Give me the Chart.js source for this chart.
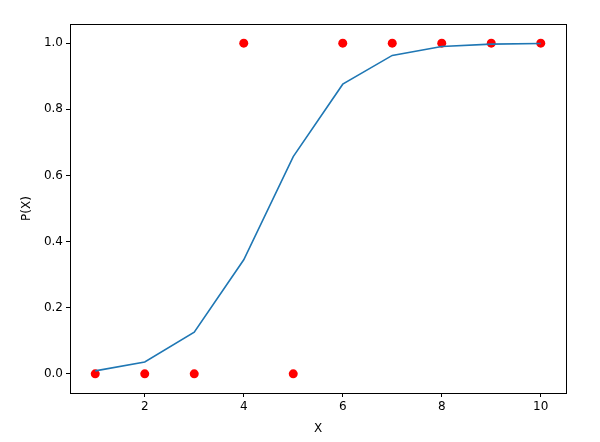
<!DOCTYPE html>
<html>
<head>
<meta charset="utf-8">
<script src="https://cdn.jsdelivr.net/npm/chart.js@4.4.0/dist/chart.umd.min.js"></script>
<style>
  html, body { margin: 0; padding: 0; background: #fff; }
  #wrap { width: 600px; height: 442px; }
</style>
</head>
<body>
<div id="wrap"><canvas id="chart" width="600" height="442"></canvas></div>
<script>
// data
var xs = [1, 2, 3, 4, 5, 6, 7, 8, 9, 10];
var observed = [0, 0, 0, 1, 0, 1, 1, 1, 1, 1];
var fitted = [0.009, 0.036, 0.126, 0.345, 0.657, 0.876, 0.963, 0.990, 0.997, 0.999];
var xTicks = [2, 4, 6, 8, 10];
var yTicks = [0, 0.2, 0.4, 0.6, 0.8, 1.0];

// box round the whole plot area, like matplotlib
var framePlugin = {
  id: 'frame',
  afterDraw: function(chart) {
    var a = chart.chartArea, ctx = chart.ctx;
    ctx.save();
    ctx.strokeStyle = '#000';
    ctx.lineWidth = 1;
    ctx.strokeRect(Math.round(a.left) + 0.5, Math.round(a.top) + 0.5,
      Math.round(a.right - a.left), Math.round(a.bottom - a.top));
    ctx.restore();
  }
};

var font = { family: 'DejaVu Sans', size: 12 };

new Chart(document.getElementById('chart'), {
  data: {
    datasets: [
      {
        type: 'line',
        data: xs.map(function(x, i) { return { x: x, y: fitted[i] }; }),
        borderColor: '#1f77b4',
        borderWidth: 1.6,
        pointRadius: 0,
        tension: 0,
        fill: false,
        order: 0
      },
      {
        type: 'scatter',
        data: xs.map(function(x, i) { return { x: x, y: observed[i] }; }),
        backgroundColor: '#ff0000',
        borderColor: '#ff0000',
        pointRadius: 4.5,
        borderWidth: 0,
        order: 1
      }
    ]
  },
  options: {
    responsive: false,
    animation: false,
    layout: { padding: { top: 24, right: 34, left: 20, bottom: 0 } },
    plugins: { legend: { display: false }, tooltip: { enabled: false } },
    scales: {
      x: {
        type: 'linear',
        min: 0.49,
        max: 10.51,
        afterBuildTicks: function(s) { s.ticks = xTicks.map(function(v) { return { value: v }; }); },
        afterFit: function(s) { s.height = 49; },
        grid: { display: true, drawOnChartArea: false, drawTicks: true, tickLength: 4, color: '#000' },
        border: { display: false },
        ticks: { color: '#000', font: font, padding: 3, maxRotation: 0 },
        title: { display: true, text: 'X', color: '#000', font: font, padding: { top: 2, bottom: 6 } }
      },
      y: {
        type: 'linear',
        min: -0.058,
        max: 1.058,
        afterBuildTicks: function(s) { s.ticks = yTicks.map(function(v) { return { value: v }; }); },
        afterFit: function(s) { s.width = 50; },
        grid: { display: true, drawOnChartArea: false, drawTicks: true, tickLength: 4, color: '#000' },
        border: { display: false },
        ticks: { color: '#000', font: font, padding: 3, callback: function(v) { return Number(v).toFixed(1); } },
        title: { display: true, text: 'P(X)', color: '#000', font: font, padding: { top: 0, bottom: 6 } }
      }
    }
  },
  plugins: [framePlugin]
});
</script>
</body>
</html>
